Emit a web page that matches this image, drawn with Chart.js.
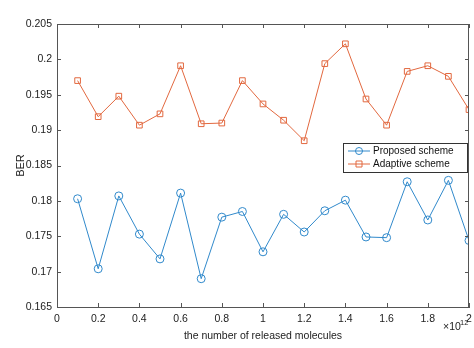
<!DOCTYPE html>
<html>
<head>
<meta charset="utf-8">
<script src="https://cdn.jsdelivr.net/npm/chart.js@4"></script>
<style>
  html, body { margin: 0; padding: 0; background: #fff; }
  #wrap { width: 474px; height: 348px; }
</style>
</head>
<body>
<div id="wrap"><canvas id="berChart" width="474" height="348"></canvas></div>
<script>
let xValues = [0.1, 0.2, 0.3, 0.4, 0.5, 0.6, 0.7, 0.8, 0.9, 1.0, 1.1, 1.2, 1.3, 1.4, 1.5, 1.6, 1.7, 1.8, 1.9, 2.0];
let proposed = [0.1803, 0.1704, 0.1807, 0.1753, 0.1718, 0.1811, 0.1690, 0.1777, 0.1785, 0.1728,
                0.1781, 0.1756, 0.1786, 0.1801, 0.1749, 0.1748, 0.1827, 0.1773, 0.1829, 0.1744];
let adaptive = [0.1970, 0.1919, 0.1948, 0.1907, 0.1923, 0.1991, 0.1909, 0.1910, 0.1970, 0.1937,
                0.1914, 0.1885, 0.1994, 0.2022, 0.1944, 0.1907, 0.1983, 0.1991, 0.1976, 0.1929];
let seriesNames = ['Proposed scheme', 'Adaptive scheme'];
let xTitle = 'the number of released molecules';
let yTitle = 'BER';

let blue = '#3089cb';
let orange = '#e2683f';
let axisColor = '#555';
let font = 'Liberation Sans, Arial, sans-serif';

function toPoints(ys) {
    return xValues.map((x, i) => ({ x: x, y: ys[i] }));
}

// box around plot + inward tick marks, legend, exponent label
let matlabBox = {
    id: 'matlabBox',
    afterDraw(chart) {
        let ctx = chart.ctx;
        let a = chart.chartArea;
        let xs = chart.scales.x;
        let ys = chart.scales.y;
        ctx.save();
        ctx.strokeStyle = axisColor;
        ctx.lineWidth = 1;
        ctx.beginPath();
        ctx.moveTo(a.left, a.top + 0.5);
        ctx.lineTo(a.right, a.top + 0.5);
        ctx.moveTo(a.right - 0.5, a.top);
        ctx.lineTo(a.right - 0.5, a.bottom);
        xs.ticks.forEach(t => {
            let px = Math.round(xs.getPixelForValue(t.value)) + 0.5;
            ctx.moveTo(px, a.bottom);
            ctx.lineTo(px, a.bottom - 4);
            ctx.moveTo(px, a.top);
            ctx.lineTo(px, a.top + 4);
        });
        ys.ticks.forEach(t => {
            let py = Math.round(ys.getPixelForValue(t.value)) + 0.5;
            ctx.moveTo(a.left, py);
            ctx.lineTo(a.left + 4, py);
            ctx.moveTo(a.right, py);
            ctx.lineTo(a.right - 4, py);
        });
        ctx.stroke();

        // legend
        let lx = 343, ly = 143, lw = 124, lh = 29;
        ctx.fillStyle = '#fff';
        ctx.fillRect(lx, ly, lw, lh);
        ctx.strokeStyle = '#333';
        ctx.strokeRect(lx + 0.5, ly + 0.5, lw, lh);
        ctx.font = '10px ' + font;
        ctx.textBaseline = 'middle';
        chart.data.datasets.forEach((ds, i) => {
            let cy = ly + 8 + i * 13;
            ctx.strokeStyle = ds.borderColor;
            ctx.beginPath();
            ctx.moveTo(lx + 5, cy);
            ctx.lineTo(lx + 27, cy);
            ctx.stroke();
            ctx.beginPath();
            if (ds.pointStyle === 'rect') {
                ctx.rect(lx + 13, cy - 3, 6, 6);
            } else {
                ctx.arc(lx + 16, cy, 3.5, 0, Math.PI * 2);
            }
            ctx.stroke();
            ctx.fillStyle = '#111';
            ctx.fillText(ds.label, lx + 30, cy);
        });

        // exponent
        ctx.fillStyle = '#222';
        ctx.font = '10.5px ' + font;
        ctx.textBaseline = 'alphabetic';
        ctx.fillText('\u00d710', 443, 330);
        ctx.font = '7.5px ' + font;
        ctx.fillText('12', 460, 325);
        ctx.restore();
    }
};

new Chart(document.getElementById('berChart'), {
    type: 'line',
    data: {
        datasets: [{
            label: seriesNames[0],
            data: toPoints(proposed),
            borderColor: blue,
            backgroundColor: 'rgba(0,0,0,0)',
            borderWidth: 1,
            pointStyle: 'circle',
            pointRadius: 4,
            pointBorderWidth: 1,
            tension: 0
        }, {
            label: seriesNames[1],
            data: toPoints(adaptive),
            borderColor: orange,
            backgroundColor: 'rgba(0,0,0,0)',
            borderWidth: 1,
            pointStyle: 'rect',
            pointRadius: 4,
            pointBorderWidth: 1,
            tension: 0
        }]
    },
    options: {
        responsive: false,
        animation: false,
        layout: { padding: { top: 24, right: 4, left: 14, bottom: 0 } },
        plugins: {
            legend: { display: false },
            tooltip: { enabled: false }
        },
        scales: {
            x: {
                type: 'linear',
                min: 0,
                max: 2,
                ticks: {
                    stepSize: 0.2,
                    color: '#222',
                    padding: 6,
                    font: { family: font, size: 10.5 },
                    callback: v => String(parseFloat(v.toFixed(2)))
                },
                grid: { display: true, drawOnChartArea: false, drawTicks: false },
                border: { color: axisColor },
                title: {
                    display: true,
                    text: xTitle,
                    color: '#222',
                    font: { family: font, size: 10.5 },
                    padding: { top: 2, bottom: 6 }
                },
                afterFit: s => { s.height = 41; s.paddingRight = 0; s.paddingLeft = 0; }
            },
            y: {
                min: 0.165,
                max: 0.205,
                ticks: {
                    stepSize: 0.005,
                    color: '#222',
                    padding: 5,
                    font: { family: font, size: 10.5 },
                    callback: v => String(parseFloat(v.toFixed(3)))
                },
                grid: { display: true, drawOnChartArea: false, drawTicks: false },
                border: { color: axisColor },
                title: {
                    display: true,
                    text: yTitle,
                    color: '#222',
                    font: { family: font, size: 11 },
                    padding: { top: 0, bottom: 4 }
                },
                afterFit: s => { s.width = 43; s.paddingTop = 0; s.paddingBottom = 0; }
            }
        }
    },
    plugins: [matlabBox]
});
</script>
</body>
</html>
